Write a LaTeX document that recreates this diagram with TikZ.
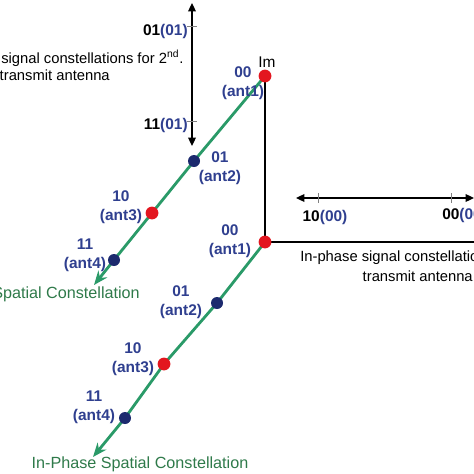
\documentclass[tikz,border=0pt]{standalone}
\usepackage{fontspec}
\setmainfont{Liberation Sans}
\usetikzlibrary{arrows.meta,backgrounds}

\definecolor{labblue}{HTML}{2F3F8F}
\definecolor{dotnavy}{HTML}{1C2A6E}
\definecolor{dotred}{HTML}{E3161F}
\definecolor{linegreen}{HTML}{2A9A68}
\definecolor{textgreen}{HTML}{2F7A4A}

\begin{document}
\begin{tikzpicture}[x=0.025cm, y=-0.025cm,
  every node/.style={font=\fontsize{10.5}{13.5}\selectfont, inner sep=0pt},
  lbl/.style={font=\fontsize{11}{13.5}\selectfont\bfseries, text=labblue, align=center},
  reddot/.style={circle, fill=dotred, minimum size=0.32cm},
  navydot/.style={circle, fill=dotnavy, minimum size=0.3cm},
  spline/.style={line width=2pt, draw=linegreen, -{Stealth[length=10pt,width=8pt]}},
  axis/.style={line width=1.3pt},
  dblarrow/.style={line width=0.9pt, {Triangle[length=6pt,width=5.5pt]}-{Triangle[length=6pt,width=5.5pt]}},
  tickmark/.style={draw=gray, line width=0.4pt}]
  \useasboundingbox (0,0) rectangle (474,474);

  % Spatial constellation points (upper line)
  \node[reddot]  (qa) at (265,76)  {};
  \node[navydot] (qb) at (194,161) {};
  \node[reddot]  (qc) at (152,213) {};
  \node[navydot] (qd) at (114,260) {};
  \coordinate (qtip) at (94,285);

  % In-phase spatial constellation points (lower line)
  \node[reddot]  (la) at (265,242) {};
  \node[navydot] (lb) at (217,303) {};
  \node[reddot]  (lc) at (164,364) {};
  \node[navydot] (ld) at (125,418) {};
  \coordinate (ltip) at (93,457);

  \coordinate (haxend) at (474,242);

  % Lines behind the dots
  \begin{scope}[on background layer]
    \draw[axis] (qa.center) -- (la.center) -- (haxend);
    \draw[spline] (qa.center) -- (qb.center) -- (qc.center) -- (qd.center) -- (qtip);
    \draw[spline] (la.center) -- (lb.center) -- (lc.center) -- (ld.center) -- (ltip);
  \end{scope}

  % Point labels
  \node[lbl] (lqa) at (243,83)  {00\\(ant1)};
  \node[lbl] (lqb) at (220,168) {01\\(ant2)};
  \node[lbl] (lqc) at (121,207) {10\\(ant3)};
  \node[lbl] (lqd) at (85,255)  {11\\(ant4)};
  \node[lbl] (lla) at (230,241) {00\\(ant1)};
  \node[lbl] (llb) at (181,302) {01\\(ant2)};
  \node[lbl] (llc) at (133,359) {10\\(ant3)};
  \node[lbl] (lld) at (94,407)  {11\\(ant4)};

  \node[font=\fontsize{11}{13.5}\selectfont] (im) at (267,62) {Im};

  % Quadrature signal axis for 2nd antenna
  \coordinate (vtop) at (192,3);
  \coordinate (vbot) at (192,146);
  \draw[dblarrow] (vtop) -- (vbot);
  \draw[tickmark] (187,26) -- (197,26);
  \draw[tickmark] (187,121) -- (197,121);
  \node[anchor=east, font=\fontsize{11}{13.5}\selectfont\bfseries] (v01) at (188,31) {01\textcolor{labblue}{(01)}};
  \node[anchor=east, font=\fontsize{11}{13.5}\selectfont\bfseries] (v11) at (188,125) {11\textcolor{labblue}{(01)}};
  \node[anchor=west] (qtxt) at (1,58) {signal constellations for 2\textsuperscript{nd}.};
  \node[anchor=east] (qtxt2) at (110,75) {transmit antenna};

  % In-phase signal axis for 1st antenna
  \coordinate (hleft) at (296,198);
  \coordinate (hright) at (474,198);
  \draw[dblarrow] (hleft) -- (hright);
  \draw[tickmark] (318,193) -- (318,203);
  \draw[tickmark] (451,193) -- (451,203);
  \node[font=\fontsize{11}{13.5}\selectfont\bfseries] (h10) at (325,217) {10\textcolor{labblue}{(00)}};
  \node[anchor=west, font=\fontsize{11}{13.5}\selectfont\bfseries] (h00) at (442,215) {00\textcolor{labblue}{(00)}};
  \node[anchor=west] (itxt) at (300,258) {In-phase signal constellation};
  \node[anchor=east] (itxt2) at (473,276) {transmit antenna};

  % Axis names
  \node[anchor=east, text=textgreen, font=\fontsize{11.5}{13.5}\selectfont] (qname) at (140,294) {Spatial Constellation};
  \node[text=textgreen, font=\fontsize{11.5}{13.5}\selectfont] (lname) at (140,464) {In-Phase Spatial Constellation};
\end{tikzpicture}
\end{document}
